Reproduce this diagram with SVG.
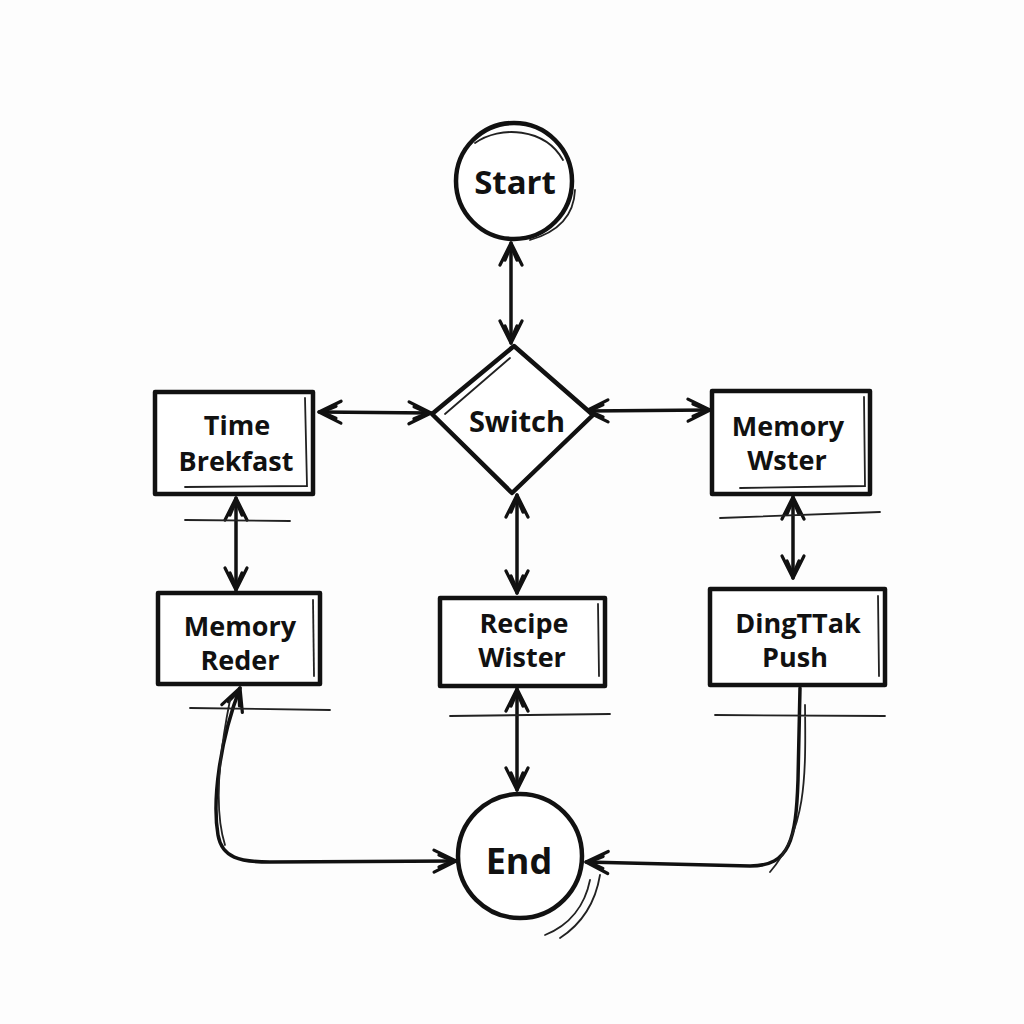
<svg xmlns="http://www.w3.org/2000/svg" width="1024" height="1024" viewBox="0 0 1024 1024">
<defs>
<style>
.shape{fill:#ffffff;stroke:#111;stroke-width:4.5;stroke-linejoin:round;stroke-linecap:round}
.sk{fill:none;stroke:#222;stroke-width:1.8;stroke-linecap:round}
.edge{fill:none;stroke:#111;stroke-width:3.5;stroke-linecap:round;stroke-linejoin:round}
.lbl{font-family:"Open Sans","Noto Sans",sans-serif;font-weight:700;font-size:27px;fill:#111;text-anchor:middle}
.big{font-size:36px}
.st{font-size:33px}
.sw{font-size:29px}
</style>
<marker id="ah" viewBox="0 0 28 28" refX="25" refY="14" markerWidth="28" markerHeight="28" markerUnits="userSpaceOnUse" orient="auto-start-reverse">
<path d="M3,3 L25,14 L3,25 M8,8 L22,14 L8,20" fill="none" stroke="#111" stroke-width="3.2" stroke-linecap="round" stroke-linejoin="round"/>
</marker>
</defs>
<rect width="1024" height="1024" fill="#fdfdfd"/>

<g id="connectors">
<path class="edge" d="M511,243 L511,343" marker-start="url(#ah)" marker-end="url(#ah)"/>
<path class="edge" d="M319,412 L431,413" marker-start="url(#ah)" marker-end="url(#ah)"/>
<path class="edge" d="M586,411 L710,410" marker-start="url(#ah)" marker-end="url(#ah)"/>
<path class="edge" d="M517,495 L517,593" marker-start="url(#ah)" marker-end="url(#ah)"/>
<path class="edge" d="M236,498 L236,590" marker-start="url(#ah)" marker-end="url(#ah)"/>
<path class="edge" d="M793,497 L793,578" marker-start="url(#ah)" marker-end="url(#ah)"/>
<path class="edge" d="M517,689 L517,790" marker-start="url(#ah)" marker-end="url(#ah)"/>
<path class="edge" d="M240,688 C220,740 212,800 218,835 C222,858 240,862 270,862 L456,861" marker-start="url(#ah)" marker-end="url(#ah)"/>
<path class="edge" d="M800,688 L798,780 C796,840 790,866 750,866 L586,862" marker-end="url(#ah)"/>
<path class="sk" d="M185,520 L290,521 M190,708 L330,710 M450,716 L610,714 M715,715 L885,716 M720,518 L880,512 M230,700 C218,760 214,810 225,845 M805,705 C806,780 806,830 770,872"/>
</g>

<g id="start">
<circle class="shape" cx="514" cy="181" r="58"/>
<path class="sk" d="M475,143 C500,125 545,128 563,160 M575,190 C574,215 558,232 530,240"/>
<text class="lbl st" x="515" y="194">Start</text>
</g>

<g id="switch">
<path class="shape" d="M514,346 L593,415 L512,493 L432,414 Z"/>
<path class="sk" d="M445,414 L510,358"/>
<text class="lbl sw" x="517" y="432">Switch</text>
</g>

<g id="time-breakfast">
<rect class="shape" x="155" y="392" width="158" height="102"/>
<path class="sk" d="M305,398 L307,486 L185,487"/>
<text class="lbl" x="237" y="435">Time</text>
<text class="lbl" x="236" y="471">Brekfast</text>
</g>

<g id="memory-wster">
<rect class="shape" x="712" y="391" width="158" height="103"/>
<path class="sk" d="M864,397 L865,486 L740,488"/>
<text class="lbl" x="788" y="436">Memory</text>
<text class="lbl" x="787" y="470">Wster</text>
</g>

<g id="memory-reder">
<rect class="shape" x="158" y="593" width="162" height="91"/>
<path class="sk" d="M313,600 L314,676"/>
<text class="lbl" x="240" y="636">Memory</text>
<text class="lbl" x="240" y="670">Reder</text>
</g>

<g id="recipe-wister">
<rect class="shape" x="440" y="598" width="165" height="88"/>
<path class="sk" d="M598,604 L599,676"/>
<text class="lbl" x="524" y="633">Recipe</text>
<text class="lbl" x="522" y="667">Wister</text>
</g>

<g id="dingtalk-push">
<rect class="shape" x="710" y="589" width="175" height="96"/>
<path class="sk" d="M878,596 L879,676"/>
<text class="lbl" x="798" y="633">DingTTak</text>
<text class="lbl" x="795" y="667">Push</text>
</g>

<g id="end">
<circle class="shape" cx="520" cy="856" r="62"/>
<path class="sk" d="M590,880 C585,905 570,925 545,935 M600,875 C595,905 580,925 560,938"/>
<text class="lbl big" x="519" y="874">End</text>
</g>
</svg>
